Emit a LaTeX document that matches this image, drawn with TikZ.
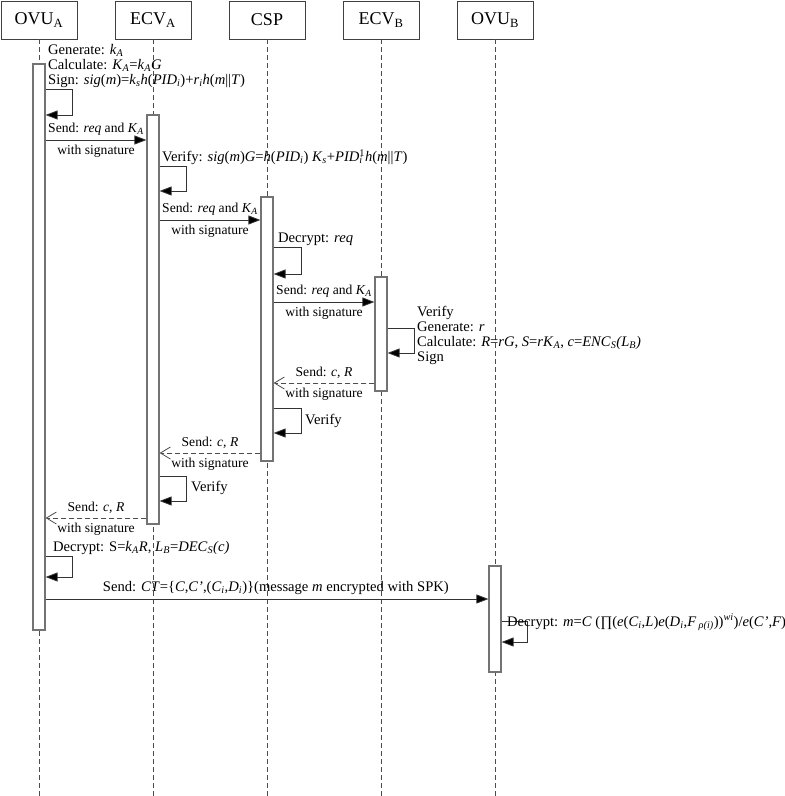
\documentclass[tikz,border=0pt]{standalone}
\usepackage{fontspec}
\setmainfont{Liberation Serif}
\usetikzlibrary{positioning,arrows.meta}
\newcommand{\vi}[1]{\textit{#1}}
\newcommand{\sbi}[1]{\textsubscript{\textit{#1}}}

\begin{document}
\begin{tikzpicture}[x=1pt,y=-1pt,node distance=114pt,on grid,
	actor/.style={draw=black!75,line width=0.8pt,minimum width=76pt,minimum height=38pt,inner sep=0pt,font=\fontsize{18}{20}\selectfont},
	lifeline/.style={draw=black!70,line width=0.8pt,dash pattern=on 5pt off 3pt},
	bar/.style={draw=black!55,fill=white,line width=1.2pt,minimum width=12pt,inner sep=0pt},
	msg/.style={draw=black!80,line width=0.8pt,-{Triangle[length=12pt,width=9pt,fill=black]}},
	reply/.style={draw=black!70,line width=0.8pt,dash pattern=on 5pt off 3pt,-{Straight Barb[length=10pt,width=12pt]}},
	txt/.style={font=\fontsize{13.6}{15}\selectfont,inner sep=1pt,align=left},
	note/.style={font=\fontsize{14.6}{15}\selectfont,inner sep=1pt,align=left}]
	\useasboundingbox (0,0) rectangle (785,796);

	\node[actor] (ovua) at (39,20) {OVU\textsubscript{A}};
	\node[actor] (ecva) [right=of ovua] {ECV\textsubscript{A}};
	\node[actor] (csp) [right=of ecva] {CSP};
	\node[actor] (ecvb) [right=of csp] {ECV\textsubscript{B}};
	\node[actor] (ovub) [right=of ecvb] {OVU\textsubscript{B}};

	\foreach \a in {ovua,ecva,csp,ecvb,ovub}
		\draw[lifeline] (\a.south) -- (\a.south |- 0,796);

	\node[bar,minimum height=566pt] (bOA) at (ovua |- 0,347) {};
	\node[bar,minimum height=409pt] (bEA) at (ecva |- 0,319.5) {};
	\node[bar,minimum height=264pt] (bCS) at (csp |- 0,329) {};
	\node[bar,minimum height=114pt] (bEB) at (ecvb |- 0,334) {};
	\node[bar,minimum height=106pt] (bOB) at (ovub |- 0,619) {};

	% OVU_A: generate, calculate, sign
	\draw[msg] (bOA.east |- 0,89) -| ++(27,26) -- (bOA.east |- 0,115);
	\node[note,anchor=south west] (t1) at (47,89) {Generate: \vi{k}\sbi{A}\\
		Calculate: \vi{K}\sbi{A}=\vi{k}\sbi{A}\vi{G}\\
		Sign: \vi{sig}(\vi{m})=\vi{k}\sbi{s}\vi{h}(\vi{PID}\sbi{i})+\vi{r}\sbi{i}\vi{h}(\vi{m}||\vi{T})};

	\draw[msg] (bOA.east |- 0,140) -- node[txt,above=3pt] {Send: \vi{req} and \vi{K}\sbi{A}}
		node[txt,below=4pt] {with signature} (bEA.west |- 0,140);

	% ECV_A: verify
	\draw[msg] (bEA.east |- 0,166) -| ++(27,25) -- (bEA.east |- 0,191);
	\node[note,anchor=south west] (t2) at (161,166) {Verify: \vi{sig}(\vi{m})\vi{G}=\vi{h}(\vi{PID}\sbi{i}) \vi{K}\sbi{s}+\vi{PID}\rlap{\sbi{i}}\textsuperscript{1}\vi{h}(\vi{m}||\vi{T})};

	\draw[msg] (bEA.east |- 0,220) -- node[txt,above=3pt] {Send: \vi{req} and \vi{K}\sbi{A}}
		node[txt,below=4pt] {with signature} (bCS.west |- 0,220);

	% CSP: decrypt
	\draw[msg] (bCS.east |- 0,247) -| ++(28,27) -- (bCS.east |- 0,274);
	\node[note,anchor=south west] (t3) at (277,247) {Decrypt: \vi{req}};

	\draw[msg] (bCS.east |- 0,302) -- node[txt,above=3pt] {Send: \vi{req} and \vi{K}\sbi{A}}
		node[txt,below=4pt] {with signature} (bEB.west |- 0,302);

	% ECV_B: verify, generate, calculate, sign
	\draw[msg] (bEB.east |- 0,328) -| ++(27,25) -- (bEB.east |- 0,353);
	\node[note,anchor=west] (t4) at (416,335) {Verify\\
		Generate: \vi{r}\\
		Calculate: \vi{R}=\vi{rG}, \vi{S}=\vi{rK}\sbi{A}, \vi{c}=\vi{ENC}\sbi{S}\vi{(L}\sbi{B}\vi{)}\\
		Sign};

	\draw[reply] (bEB.west |- 0,383) -- node[txt,above=3pt] {Send: \vi{c}, \vi{R}}
		node[txt,below=4pt] {with signature} (bCS.east |- 0,383);

	\draw[msg] (bCS.east |- 0,408) -| ++(28,25) -- (bCS.east |- 0,433);
	\node[note,anchor=west] (t5) at (304,421) {Verify};

	\draw[reply] (bCS.west |- 0,453) -- node[txt,above=3pt] {Send: \vi{c}, \vi{R}}
		node[txt,below=4pt] {with signature} (bEA.east |- 0,453);

	\draw[msg] (bEA.east |- 0,476) -| ++(27,25) -- (bEA.east |- 0,501);
	\node[note,anchor=west] (t6) at (190,488) {Verify};

	\draw[reply] (bEA.west |- 0,518) -- node[txt,above=3pt] {Send: \vi{c}, \vi{R}}
		node[txt,below=4pt] {with signature} (bOA.east |- 0,518);

	% OVU_A: decrypt
	\draw[msg] (bOA.east |- 0,556) -| ++(27,21) -- (bOA.east |- 0,577);
	\node[note,anchor=south west] (t7) at (52,556) {Decrypt: S=\vi{k}\sbi{A}\vi{R}, \vi{L}\sbi{B}=\vi{DEC}\sbi{S}\vi{(c)}};

	\draw[msg] (bOA.east |- 0,599) -- node[note,above=3pt,pos=0.52] {Send: \vi{CT}=\{\vi{C},\vi{C'},(\vi{C}\sbi{i},\vi{D}\sbi{i})\}(message \vi{m} encrypted with SPK)}
		(bOB.west |- 0,599);

	% OVU_B: decrypt
	\draw[msg] (bOB.east |- 0,621) -| ++(26,21) -- (bOB.east |- 0,642);
	\node[note,anchor=base west] (t8) at (506,626) {Decrypt: \vi{m}=\vi{C} (∏(\vi{e}(\vi{C}\sbi{i},\vi{L})\vi{e}(\vi{D}\sbi{i},\vi{F}\,\textsubscript{\vi{ρ(i)}}))\textsuperscript{\vi{wi}})/\vi{e}(\vi{C'},\vi{F})};
\end{tikzpicture}
\end{document}
